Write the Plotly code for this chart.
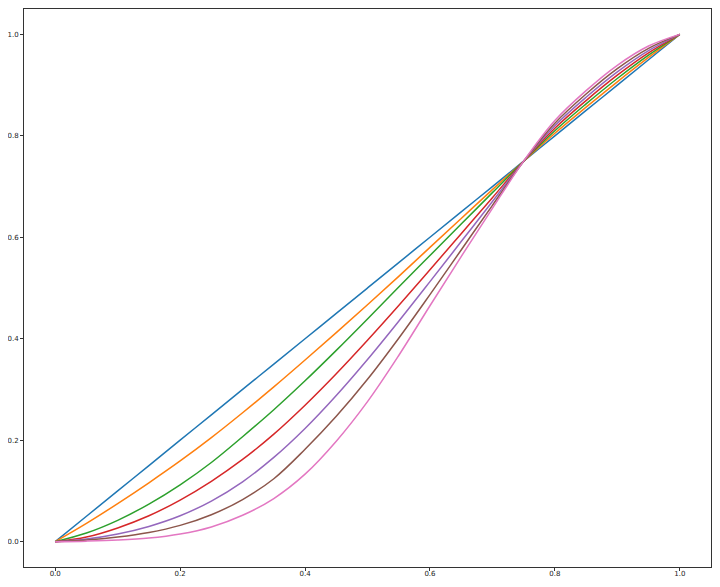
# coding=utf-8

import plotly.graph_objects as go

x_vals = [0.0, 0.05, 0.1, 0.15, 0.2, 0.25, 0.3, 0.35, 0.4, 0.45, 0.5,
          0.55, 0.6, 0.65, 0.7, 0.75, 0.8, 0.85, 0.9, 0.95, 1.0]

# one list per curve
curve_1 = [0.0, 0.05, 0.1, 0.15, 0.2, 0.25, 0.3, 0.35, 0.4, 0.45, 0.5,
           0.55, 0.6, 0.65, 0.7, 0.75, 0.8, 0.85, 0.9, 0.95, 1.0]
curve_2 = [0.0, 0.036, 0.075, 0.116, 0.159, 0.205, 0.254, 0.305, 0.358, 0.412, 0.467,
           0.523, 0.580, 0.637, 0.694, 0.75, 0.805, 0.8565, 0.9065, 0.9545, 1.0]
curve_3 = [0.0, 0.017, 0.042, 0.074, 0.112, 0.156, 0.2068, 0.260, 0.317, 0.377, 0.439,
           0.502, 0.564, 0.626, 0.688, 0.75, 0.810, 0.863, 0.913, 0.959, 1.0]
curve_4 = [0.0, 0.009, 0.027, 0.051, 0.082, 0.119, 0.162, 0.212, 0.269, 0.331, 0.397,
           0.4655, 0.536, 0.607, 0.678, 0.75, 0.815, 0.8695, 0.9195, 0.9635, 1.0]
curve_5 = [0.0, 0.005, 0.015, 0.030, 0.051, 0.080, 0.118, 0.166, 0.223, 0.288, 0.359,
           0.4345, 0.5125, 0.5915, 0.6705, 0.75, 0.820, 0.876, 0.926, 0.968, 1.0]
curve_6 = [0.0, 0.003, 0.009, 0.018, 0.032, 0.053, 0.083, 0.124, 0.182, 0.247, 0.320,
           0.401, 0.487, 0.575, 0.663, 0.75, 0.825, 0.8825, 0.9325, 0.9725, 1.0]
curve_7 = [0.0, 0.001, 0.003, 0.007, 0.015, 0.029, 0.052, 0.085, 0.133, 0.198, 0.276,
           0.367, 0.465, 0.562, 0.657, 0.75, 0.830, 0.889, 0.939, 0.977, 1.0]

curves = [curve_1, curve_2, curve_3, curve_4, curve_5, curve_6, curve_7]
colors = ['#1f77b4', '#ff7f0e', '#2ca02c', '#d62728', '#9467bd', '#8c564b', '#e377c2']

tick_vals = [0.0, 0.2, 0.4, 0.6, 0.8, 1.0]

fig = go.Figure()
for ys, color in zip(curves, colors):
    fig.add_trace(go.Scatter(
        x=x_vals, y=ys, mode='lines',
        line=dict(color=color, width=1.5, shape='spline', smoothing=1.0),
        showlegend=False,
    ))

axis_style = dict(
    showgrid=False, zeroline=False, automargin=False,
    showline=True, mirror=True, linecolor='#333', linewidth=1,
    ticks='outside', ticklen=3, tickwidth=1, tickcolor='#333',
    tickvals=tick_vals, tickformat='.1f',
    tickfont=dict(family='DejaVu Sans', size=7, color='#222'),
)

# page body has an 8px margin: keep the figure inside the window (no scrollbars)
fig.update_layout(
    width=704, height=571,
    margin=dict(l=16, r=1, t=1, b=12),
    paper_bgcolor='white', plot_bgcolor='white',
    # pull the x labels up a little so they stay inside the figure
    xaxis=dict(range=[-0.05, 1.05], ticklabelstandoff=-3, **axis_style),
    yaxis=dict(range=[-0.05, 1.05], **axis_style),
)

fig.write_html("out.html")
